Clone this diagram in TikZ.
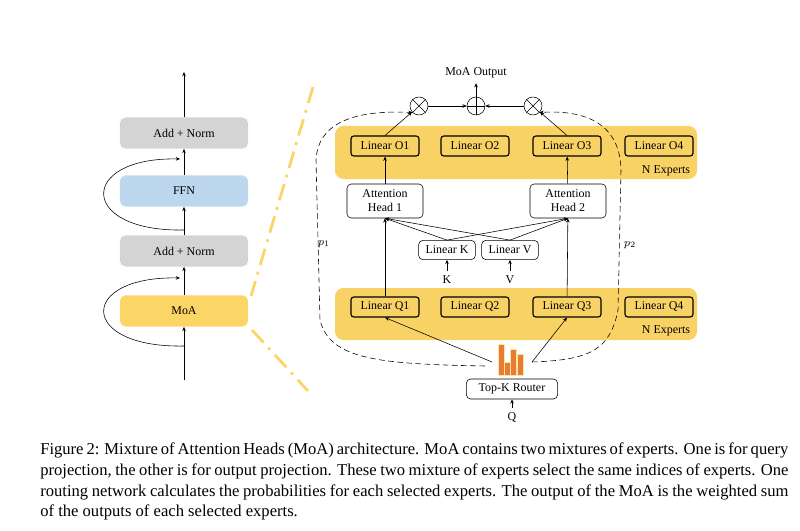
\documentclass[tikz,border=0pt]{standalone}
\usepackage{fontspec}
\setmainfont{Liberation Serif}
\usetikzlibrary{arrows.meta,positioning,shapes.misc}
\definecolor{moayellow}{HTML}{FBD566}
\definecolor{bandyellow}{HTML}{F9D266}
\definecolor{normgray}{HTML}{D4D4D4}
\definecolor{ffnblue}{HTML}{BDD7EE}
\definecolor{barorange}{HTML}{E97B34}
\tikzset{
  block/.style={rounded corners=4pt,minimum width=3.2cm,minimum height=0.78cm,font=\fontsize{8.5}{10}\selectfont},
  lin/.style={draw,thick,rounded corners=2pt,minimum width=1.7cm,minimum height=0.5cm,inner sep=1pt,font=\fontsize{8.5}{10}\selectfont},
  thin box/.style={draw,rounded corners=3pt,inner sep=1pt,font=\fontsize{8.5}{10}\selectfont},
  band/.style={fill=bandyellow,rounded corners=6pt},
  op/.style={draw,circle,minimum size=0.45cm,inner sep=0pt},
  lbl/.style={font=\fontsize{8.5}{10}\selectfont},
  prob/.style={dash pattern=on 4pt off 2.5pt,->},
}
\begin{document}
\begin{tikzpicture}[x=0.025cm,y=-0.025cm,>={Stealth[length=3pt,width=2.5pt]}]
\useasboundingbox (0,0) rectangle (800,531);
% left column
\node[block,fill=normgray] (an2) at (184,133) {Add + Norm};
\node[block,fill=ffnblue] (ffn) at (184,191) {FFN};
\node[block,fill=normgray] (an1) at (184,251) {Add + Norm};
\node[block,fill=moayellow] (moa) at (184,311) {MoA};
\coordinate (in) at (184,380);
\coordinate (out) at (184,72);
\draw[->] (in) -- (moa);
\draw[->] (moa) -- (an1);
\draw[->] (an1) -- (ffn);
\draw[->] (ffn) -- (an2);
\draw[->] (an2) -- (out);
\draw[->] (184,346) .. controls (78,348) and (78,276) .. (180,278);
\draw[->] (184,230) .. controls (78,232) and (78,157) .. (180,159);
% zoom lines
\draw[moayellow,line width=2pt,dash pattern=on 12pt off 5pt on 2pt off 5pt] (313,87) -- (251,296);
\draw[moayellow,line width=2pt,dash pattern=on 12pt off 5pt on 2pt off 5pt] (252,330) -- (308,391);
% expert bands
\fill[band] (335,126) rectangle (697,179);
\fill[band] (335,288) rectangle (697,340);
\foreach \i/\x in {1/385,2/475,3/567,4/659}{
  \node[lin] (o\i) at (\x,146) {Linear O\i};
  \node[lin] (q\i) at (\x,307) {Linear Q\i};
}
\node[lbl] at (666,171) {N Experts};
\node[lbl] at (666,331) {N Experts};
% attention
\node[thin box,minimum width=1.9cm,minimum height=0.85cm,align=center] (h1) at (385,201) {Attention\\Head 1};
\node[thin box,minimum width=1.9cm,minimum height=0.85cm,align=center] (h2) at (568,201) {Attention\\Head 2};
\node[thin box,minimum width=1.42cm,minimum height=0.48cm] (lk) at (447,250) {Linear K};
\node[thin box,minimum width=1.42cm,minimum height=0.48cm] (lv) at (510,250) {Linear V};
\node[lbl] (k) at (447,280) {K};
\node[lbl] (v) at (510,280) {V};
\draw[->] (k) -- (lk);
\draw[->] (v) -- (lv);
\foreach \s in {lk,lv}{
  \draw[->] (\s.north) -- (h1.south);
  \draw[->] (\s.north) -- (h2.south);
}
\draw[->] (q1) -- (h1);
\draw[->] (q3) -- (h2);
\draw[->] (h1) -- (o1);
\draw[->] (h2) -- (o3);
% combine
\node[op] (m1) at (419,106) {};
\node[op] (add) at (476,106) {};
\node[op] (m2) at (533,106) {};
\draw (m1.north west) -- (m1.south east) (m1.north east) -- (m1.south west);
\draw (m2.north west) -- (m2.south east) (m2.north east) -- (m2.south west);
\draw (add.north) -- (add.south) (add.west) -- (add.east);
\node[lbl] (moaout) at (476,73) {MoA Output};
\draw[->] (o1.north) -- (m1);
\draw[->] (o3.north) -- (m2);
\draw[->] (m1) -- (add);
\draw[->] (m2) -- (add);
\draw[->] (add) -- (moaout);
% router
\node[thin box,minimum width=2.28cm,minimum height=0.5cm] (router) at (512,389) {Top-K Router};
\node[lbl] (q) at (512,418) {Q};
\draw[->] (q) -- (router);
\foreach \x/\t in {498/344,504/362,510/349,517/354}
  \fill[barorange,draw=moayellow!60,line width=0.3pt] (\x,375) rectangle (\x+6.5,\t);
\coordinate (r1) at (492,362);
\coordinate (r2) at (532,362);
\draw[->] (r1) -- (q1.south);
\draw[->] (r2) -- (q3.south);
% routing probabilities
\draw[prob] (485,366) .. controls (380,364) and (330,360) .. (320,320)
  -- (316,160) .. controls (318,120) and (360,110) .. (m1.south west);
\draw[prob] (532,362) .. controls (590,360) and (610,350) .. (618,310)
  -- (621,170) .. controls (620,120) and (580,110) .. (m2.south east);
\node[lbl] at (324,244) {$p_1$};
\node[lbl] at (630,245) {$p_2$};
% caption
\node[text width=18.7cm,align=justify,anchor=north west,inner sep=0pt,
  font=\fontsize{11.8}{14.6}\selectfont] (cap) at (40,443) {Figure 2: Mixture of Attention Heads (MoA) architecture. MoA contains two mixtures of experts. One is for query projection, the other is for output projection. These two mixture of experts select the same indices of experts. One routing network calculates the probabilities for each selected experts. The output of the MoA is the weighted sum of the outputs of each selected experts.};
\end{tikzpicture}
\end{document}
